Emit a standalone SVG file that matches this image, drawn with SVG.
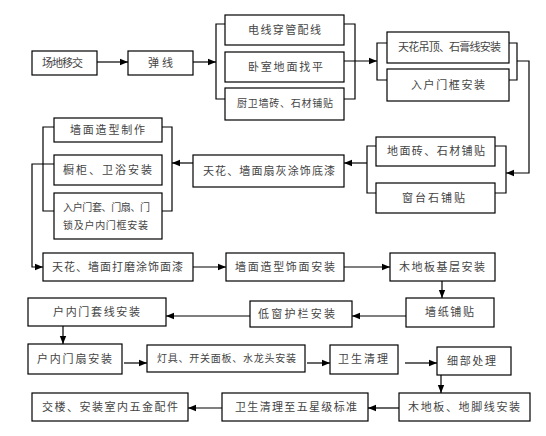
<svg xmlns="http://www.w3.org/2000/svg" width="546" height="436" viewBox="0 0 546 436">
<defs>
<style>
.n rect{fill:#fff;stroke:#000;stroke-width:1.2}
.n text{font-family:"Noto Sans CJK SC","Noto Sans CJK JP",sans-serif;font-size:11px;fill:#444;text-anchor:start}
.s text{font-size:10px}
#connectors path{fill:none;stroke:#000;stroke-width:1.2}
</style>
<marker id="ah" markerUnits="userSpaceOnUse" markerWidth="8" markerHeight="8" viewBox="0 0 8 8" refX="8" refY="4" orient="auto">
<path d="M0,0.8 L8,4 L0,7.2 Z" fill="#000"/>
</marker>
</defs>
<rect width="546" height="436" fill="#fff"/>
<g id="connectors">
<path d="M97,62 H128" marker-end="url(#ah)"/>
<path d="M193,62 H216" marker-end="url(#ah)"/>
<path d="M225,24 H216 V99 H225"/>
<path d="M344,24 H355 V99 H344"/>
<path d="M344,61 H377" marker-end="url(#ah)"/>
<path d="M387,43 H377 V80 H387"/>
<path d="M509,43 H517 V80 H509"/>
<path d="M517,61 H529 V173 H506" marker-end="url(#ah)"/>
<path d="M495,146 H506 V193 H495"/>
<path d="M376,146 H367 V193 H376"/>
<path d="M367,163 H344" marker-end="url(#ah)"/>
<path d="M193,163 H172" marker-end="url(#ah)"/>
<path d="M162,127 H172 V211 H162"/>
<path d="M54,127 H43 V211 H54"/>
<path d="M54,164 H32 V267 H43" marker-end="url(#ah)"/>
<path d="M193,267 H226" marker-end="url(#ah)"/>
<path d="M344,267 H390" marker-end="url(#ah)"/>
<path d="M442,281 V298" marker-end="url(#ah)"/>
<path d="M406,316 H352" marker-end="url(#ah)"/>
<path d="M250,316 H166" marker-end="url(#ah)"/>
<path d="M63,326 V344" marker-end="url(#ah)"/>
<path d="M124,363 H147" marker-end="url(#ah)"/>
<path d="M307,363 H330" marker-end="url(#ah)"/>
<path d="M405,363 H437" marker-end="url(#ah)"/>
<path d="M441,375 V393" marker-end="url(#ah)"/>
<path d="M399,408 H368" marker-end="url(#ah)"/>
<path d="M222,408 H188" marker-end="url(#ah)"/>
</g>
<g id="n1" class="n"><rect x="32" y="51" width="65" height="24"/><text x="42" y="67" textLength="41">场地移交</text></g>
<g id="n2" class="n"><rect x="128" y="51" width="65" height="24"/><text x="148" y="67" textLength="25">弹线</text></g>
<g id="n3" class="n"><rect x="225" y="15" width="119" height="30"/><text x="248" y="34" textLength="73">电线穿管配线</text></g>
<g id="n4" class="n"><rect x="225" y="52" width="119" height="30"/><text x="248" y="71" textLength="75">卧室地面找平</text></g>
<g id="n5" class="n s"><rect x="225" y="88" width="119" height="32"/><text x="237" y="107" textLength="96">厨卫墙砖、石材铺贴</text></g>
<g id="n6" class="n"><rect x="387" y="32" width="122" height="31"/><text x="398" y="51" textLength="103">天花吊顶、石膏线安装</text></g>
<g id="n7" class="n"><rect x="387" y="69" width="122" height="32"/><text x="411" y="89" textLength="74">入户门框安装</text></g>
<g id="n8" class="n"><rect x="376" y="137" width="119" height="29"/><text x="387" y="155" textLength="98">地面砖、石材铺贴</text></g>
<g id="n9" class="n"><rect x="376" y="183" width="119" height="30"/><text x="402" y="202" textLength="63">窗台石铺贴</text></g>
<g id="n10" class="n"><rect x="193" y="155" width="151" height="32"/><text x="203" y="175" textLength="132">天花、墙面扇灰涂饰底漆</text></g>
<g id="n11" class="n"><rect x="54" y="118" width="108" height="24"/><text x="70" y="134" textLength="75">墙面造型制作</text></g>
<g id="n12" class="n"><rect x="54" y="155" width="108" height="30"/><text x="63" y="174" textLength="89">橱柜、卫浴安装</text></g>
<g id="n13" class="n s"><rect x="54" y="193" width="108" height="46"/><text x="63" y="211" textLength="87">入户门套、门扇、门</text><text x="63" y="229" textLength="85">锁及户内门框安装</text></g>
<g id="n14" class="n"><rect x="43" y="253" width="150" height="28"/><text x="52" y="271" textLength="131">天花、墙面打磨涂饰面漆</text></g>
<g id="n15" class="n"><rect x="226" y="253" width="118" height="28"/><text x="235" y="271" textLength="100">墙面造型饰面安装</text></g>
<g id="n16" class="n"><rect x="390" y="253" width="105" height="28"/><text x="399" y="271" textLength="86">木地板基层安装</text></g>
<g id="n17" class="n"><rect x="406" y="298" width="88" height="29"/><text x="425" y="316" textLength="49">墙纸铺贴</text></g>
<g id="n18" class="n"><rect x="250" y="301" width="102" height="26"/><text x="258" y="318" textLength="77">低窗护栏安装</text></g>
<g id="n19" class="n"><rect x="28" y="298" width="138" height="28"/><text x="53" y="316" textLength="87">户内门套线安装</text></g>
<g id="n20" class="n"><rect x="28" y="344" width="94" height="30"/><text x="37" y="363" textLength="75">户内门扇安装</text></g>
<g id="n21" class="n s"><rect x="147" y="345" width="158" height="27"/><text x="157" y="362" textLength="139">灯具、开关面板、水龙头安装</text></g>
<g id="n22" class="n"><rect x="330" y="345" width="68" height="29"/><text x="338" y="363" textLength="50">卫生清理</text></g>
<g id="n23" class="n"><rect x="437" y="347" width="74" height="28"/><text x="447" y="365" textLength="49">细部处理</text></g>
<g id="n24" class="n"><rect x="399" y="393" width="131" height="28"/><text x="408" y="411" textLength="112">木地板、地脚线安装</text></g>
<g id="n25" class="n"><rect x="222" y="393" width="146" height="28"/><text x="235" y="411" textLength="122">卫生清理至五星级标准</text></g>
<g id="n26" class="n"><rect x="32" y="393" width="156" height="28"/><text x="42" y="411" textLength="136">交楼、安装室内五金配件</text></g>
</svg>
